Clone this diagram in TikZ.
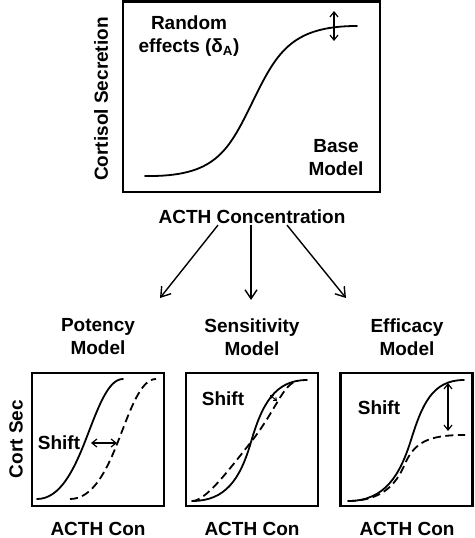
\documentclass[tikz,border=0pt]{standalone}
\usepackage{fontspec}
\setmainfont{Liberation Sans}
\usetikzlibrary{arrows.meta}

\tikzset{every picture/.style={line width=0.75pt}}
\tikzset{
  panel/.style={draw, line width=2.4, inner sep=0pt, outer sep=0pt},
  lbl/.style={font=\fontsize{19}{23}\selectfont\bfseries, align=center, inner sep=0.75pt},
  curve/.style={line width=1.8, line cap=round},
  dcurve/.style={line width=1.8, dash pattern=on 8pt off 4.5pt},
  conn/.style={line width=1.4, -{Straight Barb[length=9pt,width=12pt,line width=1.4]}},
  dbl/.style={line width=1.2, {Straight Barb[length=5pt,width=8pt]}-{Straight Barb[length=5pt,width=8pt]}},
}

\begin{document}
\begin{tikzpicture}[x=1pt,y=1pt,yscale=-1,xscale=1]
\useasboundingbox (0,0) rectangle (474,538); %set diagram size to 474 x 538

%Shape: Rectangle [id:base]
\node[panel, minimum width=257, minimum height=190.5] (base) at (251.5,96.75) {};
%Shape: Rectangle [id:boxP]
\node[panel, minimum width=132, minimum height=133] (boxP) at (98,439.5) {};
%Shape: Rectangle [id:boxS]
\node[panel, minimum width=132, minimum height=133] (boxS) at (252,439.5) {};
%Shape: Rectangle [id:boxE]
\node[panel, minimum width=132, minimum height=133] (boxE) at (406.5,439.5) {};

%Shape: Free Drawing [id:base curve]
\draw[curve] (145,176) .. controls (215,177) and (228,152) .. (252,103) .. controls (276,54) and (290,26) .. (357,26) ;
%Straight Lines [id:base arrow]
\draw[dbl] (334,11) -- (334,41) ;

%Shape: Free Drawing [id:potency solid]
\draw[curve] (37,499) .. controls (60,499) and (74,470) .. (86,439) .. controls (98,408) and (108,379) .. (123,379) ;
%Shape: Free Drawing [id:potency dashed]
\draw[dcurve] (70,499) .. controls (93,499) and (107,470) .. (119,439) .. controls (131,408) and (141,379) .. (156,379) ;
%Straight Lines [id:potency arrow]
\draw[dbl] (91,443) -- (117,443) ;

%Shape: Free Drawing [id:sensitivity solid]
\draw[curve] (192,501) .. controls (225,501) and (240,480) .. (251,442) .. controls (262,404) and (275,380) .. (307,380) ;
%Shape: Free Drawing [id:sensitivity dashed]
\draw[dcurve] (192,501) .. controls (205,501) and (225,475) .. (251,442) .. controls (277,409) and (283,383) .. (298,381) ;
%Straight Lines [id:sensitivity arrow]
\draw[line width=1, {Straight Barb[length=2.5pt,width=4pt]}-{Straight Barb[length=2.5pt,width=4pt]}] (270,395) -- (277,401) ;

%Shape: Free Drawing [id:efficacy solid]
\draw[curve] (348,501) .. controls (385,501) and (400,475) .. (411,440) .. controls (422,405) and (432,380) .. (464,380) ;
%Shape: Free Drawing [id:efficacy dashed]
\draw[dcurve] (348,501) .. controls (382,501) and (396,484) .. (404,466) .. controls (414,442) and (428,435) .. (465,435) ;
%Straight Lines [id:efficacy arrow]
\draw[dbl] (448,383) -- (448,431) ;

% Text Node
\node[lbl] (rand) at (189,36) {Random\\effects (δ\textsubscript{A})};
% Text Node
\node[lbl] (basel) at (336,158) {Base\\Model};
% Text Node
\node[lbl, rotate=90] (ylab) at (101,99) {Cortisol Secretion};
% Text Node
\node[lbl] (conc) at (252,217) {ACTH Concentration};
% Text Node
\node[lbl] (potency) at (98,337) {Potency\\Model};
% Text Node
\node[lbl] (sensitivity) at (252,337) {Sensitivity\\Model};
% Text Node
\node[lbl] (efficacy) at (407,337) {Efficacy\\Model};
% Text Node
\node[lbl, rotate=90] (ylabB) at (16,439) {Cort Sec};
% Text Node
\node[lbl] (shiftP) at (59,443) {Shift};
% Text Node
\node[lbl] (shiftS) at (223,399) {Shift};
% Text Node
\node[lbl] (shiftE) at (379,408) {Shift};
% Text Node
\node[lbl] (conP) at (98,528.5) {ACTH Con};
% Text Node
\node[lbl] (conS) at (252,528.5) {ACTH Con};
% Text Node
\node[lbl] (conE) at (407,528.5) {ACTH Con};

%Straight Lines [id:to potency]
\coordinate (endP) at (160,298);
\draw[conn] (conc.south -| 218,0) -- (endP) ;
%Straight Lines [id:to sensitivity]
\coordinate (endS) at (251,300);
\draw[conn] (conc.south -| 251,0) -- (endS) ;
%Straight Lines [id:to efficacy]
\coordinate (endE) at (346,298);
\draw[conn] (conc.south -| 287,0) -- (endE) ;

\end{tikzpicture}
\end{document}
